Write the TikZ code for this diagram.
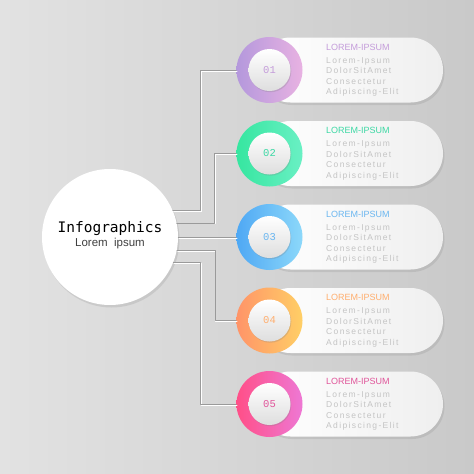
\documentclass[tikz,border=0pt]{standalone}
\usepackage{fontspec}
\setmainfont{Liberation Sans}
\newfontfamily\monofont{DejaVu Sans Mono}
\newfontfamily\numfont{Liberation Mono}
\newfontfamily\spacedfont{Liberation Sans}[LetterSpace=16]
\usepackage{tikz}
\usetikzlibrary{shadows}
\usepackage{xcolor}

\definecolor{bgA}{HTML}{E2E2E2}
\definecolor{bgB}{HTML}{C9C9C9}
\definecolor{pillgray}{HTML}{EFEFEF}
\definecolor{discgray}{HTML}{DEDEDE}
\definecolor{wiregray}{HTML}{9A9A9A}
\definecolor{bodygray}{HTML}{C4C4C4}
\definecolor{p1a}{HTML}{B498DC}\definecolor{p1b}{HTML}{E8B2E2}\definecolor{p1t}{HTML}{C49CDA}
\definecolor{p2a}{HTML}{36E6A0}\definecolor{p2b}{HTML}{6AF0C4}\definecolor{p2t}{HTML}{3CD8A4}
\definecolor{p3a}{HTML}{4FA8F4}\definecolor{p3b}{HTML}{8CD8FA}\definecolor{p3t}{HTML}{6AB6F0}
\definecolor{p4a}{HTML}{FF9468}\definecolor{p4b}{HTML}{FFCF66}\definecolor{p4t}{HTML}{FFAE6E}
\definecolor{p5a}{HTML}{FF4F88}\definecolor{p5b}{HTML}{EE78D4}\definecolor{p5t}{HTML}{E0559A}

\tikzset{
  pill/.style={rectangle, rounded corners=32.5pt, minimum width=185pt, minimum height=65pt,
    left color=white, right color=pillgray,
    drop shadow={opacity=0.2, shadow xshift=1.5pt, shadow yshift=-2.5pt}},
  ring/.style={circle, minimum size=66pt, inner sep=0pt},
  disc/.style={circle, minimum size=42pt, inner sep=0pt, top color=white, bottom color=discgray,
    font=\numfont\fontsize{10.5}{10.5}\selectfont,
    drop shadow={opacity=0.25, shadow xshift=0.8pt, shadow yshift=-1.2pt}},
  head/.style={anchor=west, inner sep=0pt, font=\fontsize{9}{9}\selectfont},
  body/.style={anchor=north west, align=left, inner sep=0pt, text=bodygray,
    font=\spacedfont\fontsize{8.5}{10.5}\selectfont},
  wire/.style={draw=wiregray, line width=0.6pt,
    preaction={draw=white, line width=0.6pt, transform canvas={xshift=0.8pt, yshift=-0.8pt}}}
}

\begin{document}
\begin{tikzpicture}[line cap=round,line join=round,x=1pt,y=-1pt]
\shade[left color=bgA, right color=bgB] (0,0) rectangle (474,474);

% central circle
\node[circle, fill=white, minimum size=136pt, inner sep=0pt,
  drop shadow={opacity=0.2, shadow xshift=1.5pt, shadow yshift=-2.5pt}] (hub) at (110,237) {};
\node[font=\monofont\fontsize{14.5}{14.5}\selectfont] (title) at (110,229) {Infographics};
\node[font=\fontsize{11.5}{12}\selectfont, text=black!75] (subtitle) at (110,244) {Lorem\ \ ipsum};

% item 1
\node[pill] (pill1) at (350.5,70) {};
\node[ring, left color=p1a, right color=p1b] (ring1) at (269.5,70) {};
\node[disc, text=p1t] (num1) at (ring1) {01};
\node[head, text=p1t] (head1) at (326,47) {LOREM-IPSUM};
\node[body] (text1) at (326,57) {Lorem-Ipsum\\DolorSitAmet\\Consectetur\\Adipiscing-Elit};

% item 2
\node[pill] (pill2) at (350.5,153.5) {};
\node[ring, left color=p2a, right color=p2b] (ring2) at (269.5,153.5) {};
\node[disc, text=p2t] (num2) at (ring2) {02};
\node[head, text=p2t] (head2) at (326,130.5) {LOREM-IPSUM};
\node[body] (text2) at (326,140.5) {Lorem-Ipsum\\DolorSitAmet\\Consectetur\\Adipiscing-Elit};

% item 3
\node[pill] (pill3) at (350.5,237) {};
\node[ring, left color=p3a, right color=p3b] (ring3) at (269.5,237) {};
\node[disc, text=p3t] (num3) at (ring3) {03};
\node[head, text=p3t] (head3) at (326,214) {LOREM-IPSUM};
\node[body] (text3) at (326,224) {Lorem-Ipsum\\DolorSitAmet\\Consectetur\\Adipiscing-Elit};

% item 4
\node[pill] (pill4) at (350.5,320.5) {};
\node[ring, left color=p4a, right color=p4b] (ring4) at (269.5,320.5) {};
\node[disc, text=p4t] (num4) at (ring4) {04};
\node[head, text=p4t] (head4) at (326,297.5) {LOREM-IPSUM};
\node[body] (text4) at (326,307.5) {Lorem-Ipsum\\DolorSitAmet\\Consectetur\\Adipiscing-Elit};

% item 5
\node[pill] (pill5) at (350.5,404) {};
\node[ring, left color=p5a, right color=p5b] (ring5) at (269.5,404) {};
\node[disc, text=p5t] (num5) at (ring5) {05};
\node[head, text=p5t] (head5) at (326,381) {LOREM-IPSUM};
\node[body] (text5) at (326,391) {Lorem-Ipsum\\DolorSitAmet\\Consectetur\\Adipiscing-Elit};

% connectors
\draw[wire] (hub.23) -- ++(28,0) |- (ring1);
\draw[wire] (hub.12) -- ++(38,0) |- (ring2);
\draw[wire] (hub.east) -- (ring3);
\draw[wire] (hub.-11) -- ++(38,0) |- (ring4);
\draw[wire] (hub.-22) -- ++(27,0) |- (ring5);
\end{tikzpicture}
\end{document}
